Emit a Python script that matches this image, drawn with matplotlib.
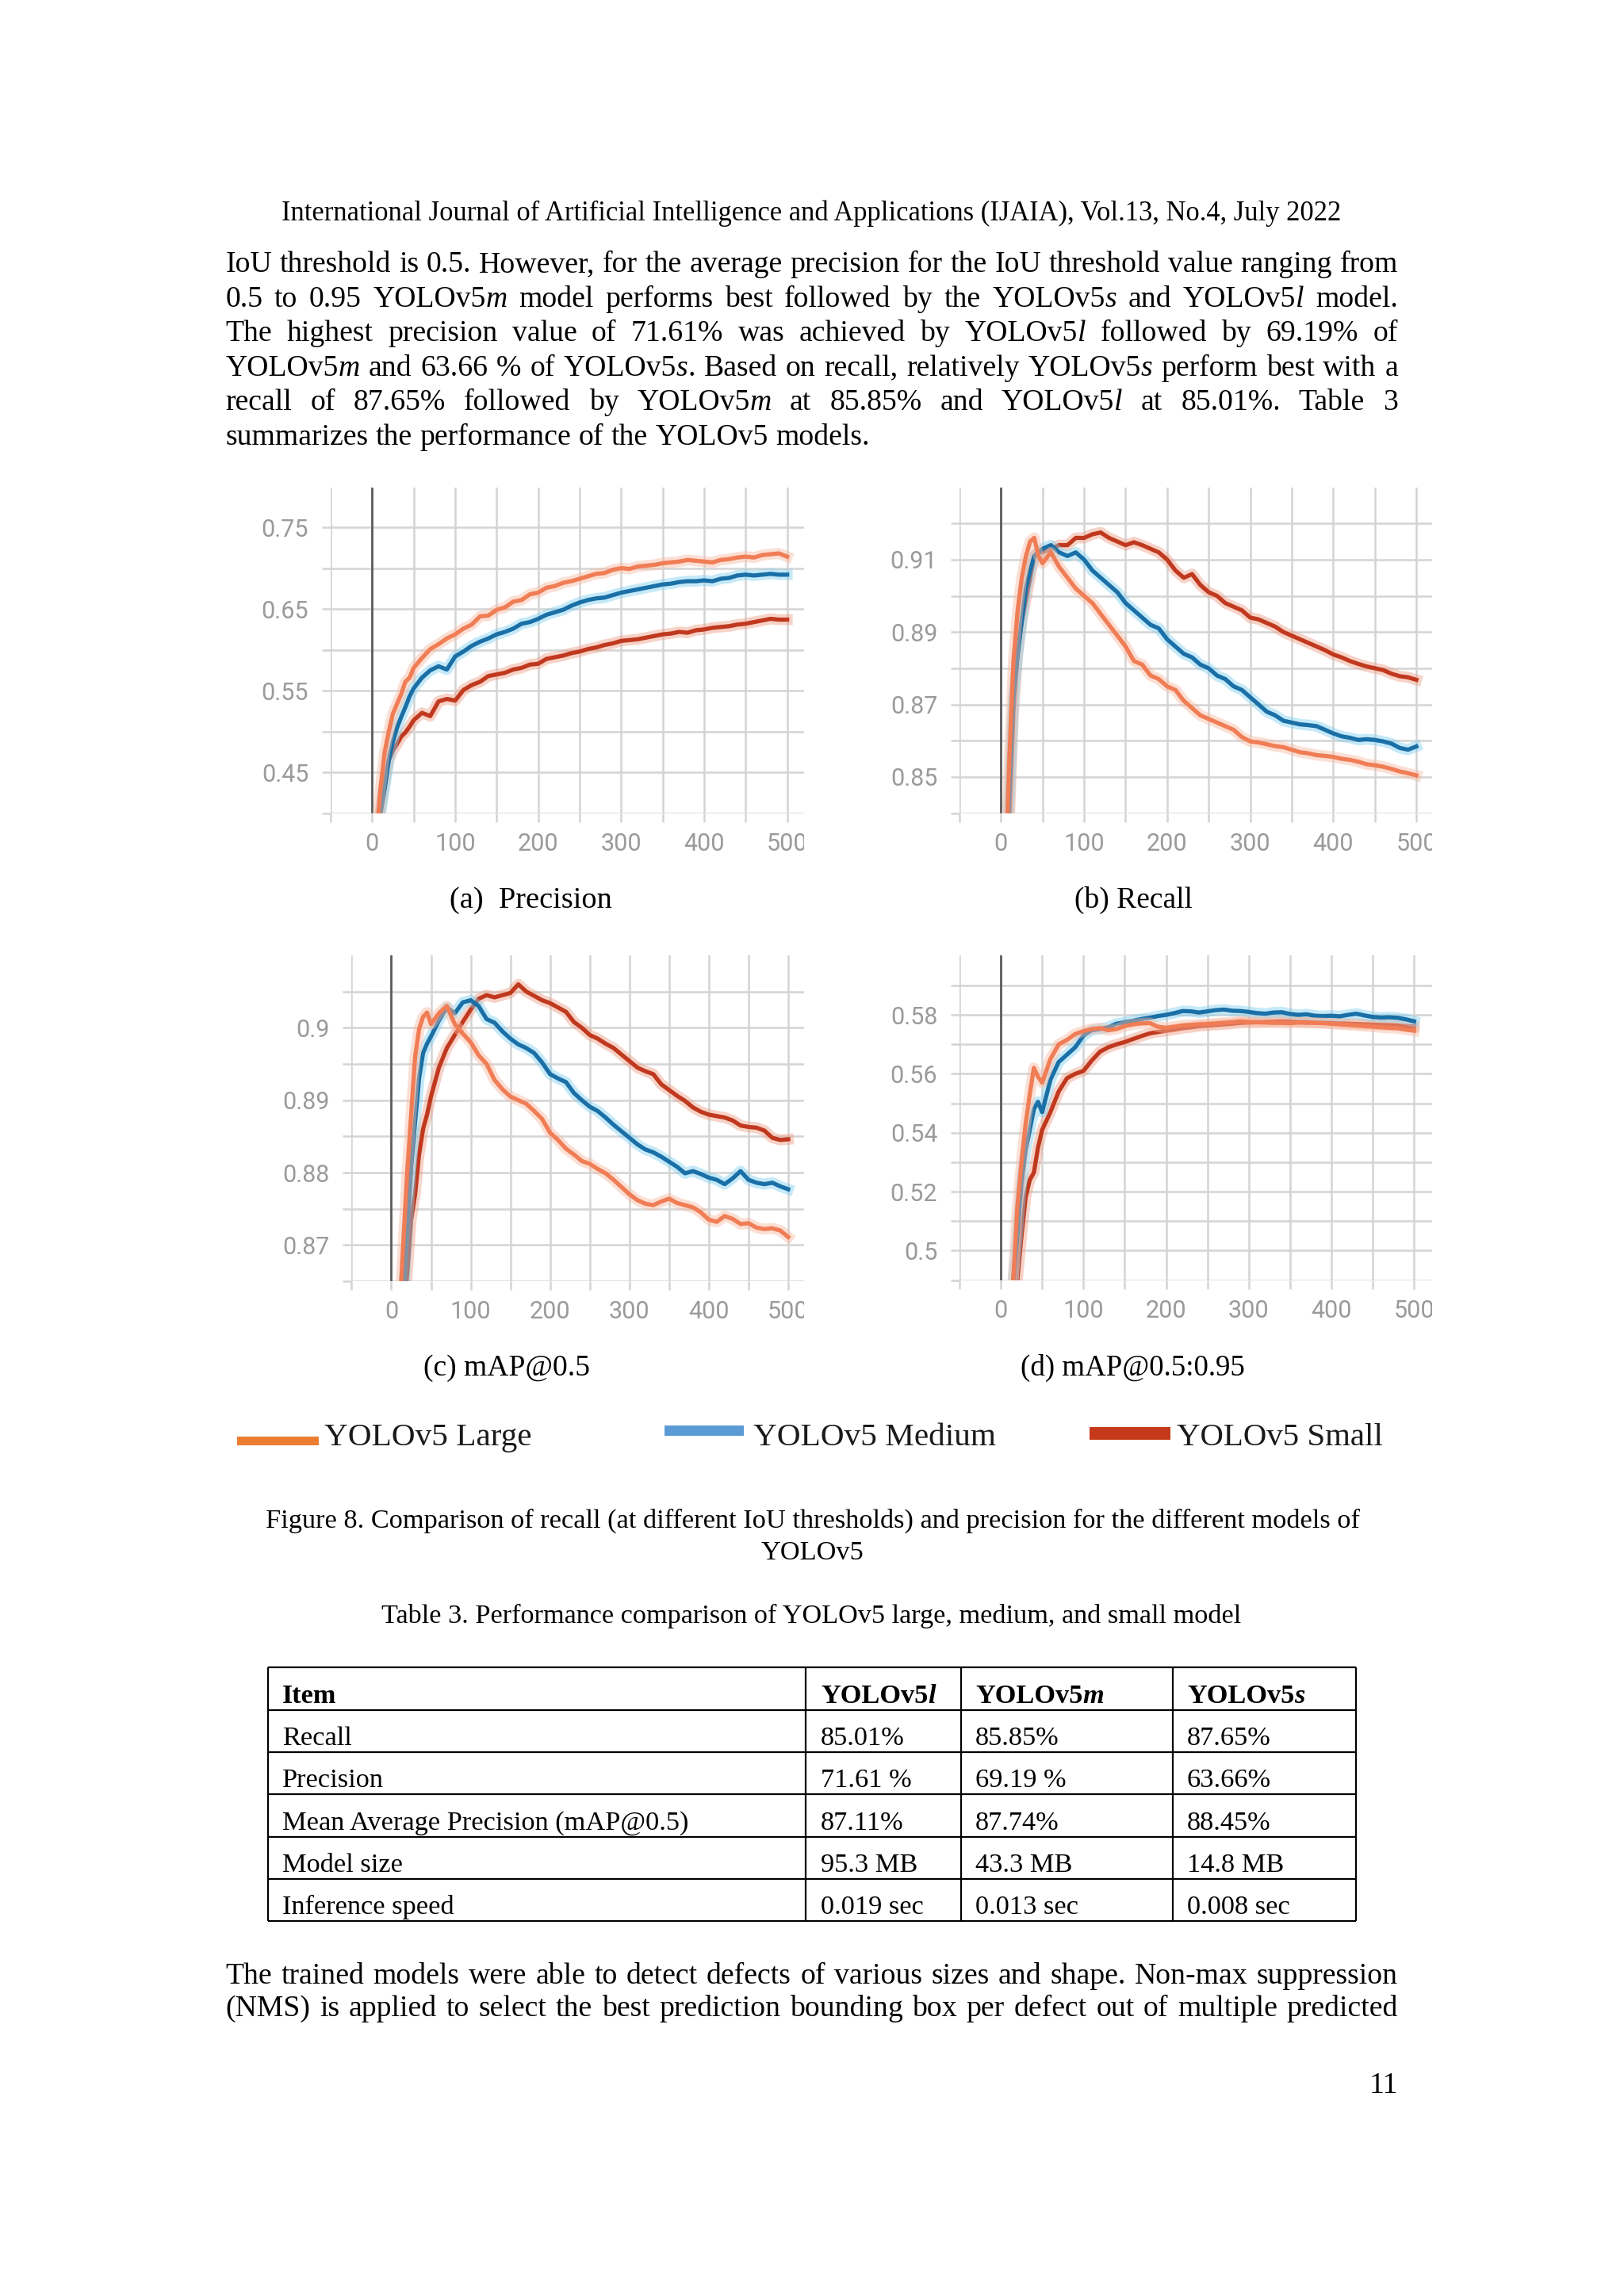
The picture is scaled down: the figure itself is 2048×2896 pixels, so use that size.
import matplotlib
matplotlib.use('Agg')
import matplotlib.pyplot as plt
from matplotlib.ticker import FixedLocator, FormatStrFormatter
from matplotlib.transforms import Bbox, TransformedBbox

W, H = 2048, 2896
SERIF = 'Liberation Serif'

epochs = [5, 10, 15, 20, 25, 30, 35, 40, 45, 50] + list(range(60, 501, 10))

models = ['YOLOv5 Large', 'YOLOv5 Medium', 'YOLOv5 Small']

# (a) precision
prec_large = [0.37, 0.43, 0.475, 0.50, 0.522, 0.534, 0.546, 0.561, 0.566, 0.578,
              0.590, 0.601, 0.607, 0.614, 0.619, 0.626, 0.631, 0.641, 0.642, 0.649,
              0.652, 0.659, 0.661, 0.668, 0.670, 0.676, 0.678, 0.682, 0.684, 0.687,
              0.690, 0.693, 0.694, 0.698, 0.700, 0.699, 0.702, 0.703, 0.704, 0.706,
              0.707, 0.708, 0.710, 0.709, 0.708, 0.707, 0.710, 0.711, 0.713, 0.714,
              0.713, 0.716, 0.717, 0.718, 0.714]
prec_medium = [0.37, 0.40, 0.43, 0.465, 0.488, 0.505, 0.518, 0.530, 0.543, 0.553,
               0.566, 0.575, 0.580, 0.576, 0.592, 0.598, 0.605, 0.610, 0.614, 0.619,
               0.622, 0.626, 0.632, 0.634, 0.638, 0.643, 0.646, 0.649, 0.654, 0.658,
               0.661, 0.663, 0.664, 0.667, 0.670, 0.672, 0.674, 0.676, 0.678, 0.680,
               0.681, 0.683, 0.684, 0.684, 0.685, 0.684, 0.687, 0.688, 0.691, 0.692,
               0.691, 0.692, 0.693, 0.692, 0.692]
prec_small = [0.36, 0.405, 0.438, 0.465, 0.477, 0.485, 0.494, 0.499, 0.506, 0.514,
              0.523, 0.519, 0.537, 0.540, 0.538, 0.551, 0.557, 0.561, 0.568, 0.570,
              0.572, 0.576, 0.578, 0.582, 0.583, 0.589, 0.591, 0.593, 0.596, 0.598,
              0.601, 0.603, 0.606, 0.608, 0.611, 0.612, 0.613, 0.615, 0.617, 0.619,
              0.620, 0.622, 0.621, 0.624, 0.625, 0.627, 0.628, 0.629, 0.631, 0.632,
              0.634, 0.636, 0.638, 0.637, 0.637]

# (b) recall
rec_large = [0.82, 0.855, 0.882, 0.896, 0.905, 0.911, 0.915, 0.916, 0.911, 0.909,
             0.912, 0.908, 0.905, 0.902, 0.900, 0.898, 0.895, 0.892, 0.889, 0.886,
             0.882, 0.881, 0.878, 0.877, 0.875, 0.874, 0.871, 0.869, 0.867, 0.866,
             0.865, 0.864, 0.863, 0.861, 0.8598, 0.8595, 0.8590, 0.8585, 0.8582, 0.8575,
             0.8568, 0.8565, 0.8560, 0.8558, 0.8555, 0.8550, 0.8547, 0.8542, 0.8535, 0.8532,
             0.8528, 0.8522, 0.8515, 0.8510, 0.8504]
rec_medium = [0.82, 0.845, 0.872, 0.884, 0.893, 0.902, 0.907, 0.911, 0.912, 0.913,
              0.914, 0.912, 0.911, 0.912, 0.910, 0.907, 0.905, 0.903, 0.901, 0.898,
              0.896, 0.894, 0.892, 0.891, 0.888, 0.886, 0.884, 0.883, 0.881, 0.880,
              0.878, 0.877, 0.875, 0.874, 0.872, 0.870, 0.868, 0.867, 0.8655, 0.8650,
              0.8645, 0.8643, 0.8640, 0.8630, 0.8620, 0.8612, 0.8608, 0.8602, 0.8604, 0.8602,
              0.8598, 0.8592, 0.8580, 0.8575, 0.8584]
rec_small = [0.82, 0.838, 0.868, 0.884, 0.893, 0.899, 0.905, 0.911, 0.912, 0.912,
             0.913, 0.914, 0.914, 0.916, 0.916, 0.917, 0.9175, 0.916, 0.915, 0.914,
             0.9148, 0.914, 0.913, 0.912, 0.910, 0.907, 0.905, 0.906, 0.903, 0.901,
             0.900, 0.898, 0.897, 0.896, 0.894, 0.8935, 0.8925, 0.8915, 0.890, 0.889,
             0.888, 0.887, 0.886, 0.885, 0.8838, 0.8830, 0.8820, 0.8812, 0.8805, 0.8800,
             0.8795, 0.8785, 0.8778, 0.8775, 0.8768]

# (c) mAP@0.5
map50_large = [0.85, 0.86, 0.870, 0.880, 0.888, 0.896, 0.8998, 0.9015, 0.9021, 0.9005,
               0.9020, 0.9030, 0.9005, 0.8992, 0.8980, 0.8962, 0.8950, 0.8928, 0.8915, 0.8905,
               0.8900, 0.8895, 0.8885, 0.8874, 0.8855, 0.8845, 0.8833, 0.8825, 0.8816, 0.8812,
               0.8805, 0.8799, 0.8790, 0.8780, 0.8770, 0.8762, 0.8757, 0.8755, 0.8760, 0.8764,
               0.8758, 0.8755, 0.8752, 0.8745, 0.8735, 0.8732, 0.8740, 0.8736, 0.8729, 0.8730,
               0.8724, 0.8722, 0.8723, 0.8720, 0.8711]
map50_medium = [0.85, 0.855, 0.862, 0.872, 0.881, 0.887, 0.893, 0.8965, 0.8978, 0.8988,
                0.9010, 0.9028, 0.9020, 0.9035, 0.9038, 0.9030, 0.9012, 0.9007, 0.8995, 0.8985,
                0.8977, 0.8972, 0.8965, 0.8952, 0.8936, 0.8930, 0.8925, 0.8910, 0.8900, 0.8891,
                0.8885, 0.8876, 0.8866, 0.8857, 0.8848, 0.8839, 0.8832, 0.8828, 0.8822, 0.8815,
                0.8808, 0.8799, 0.8802, 0.8798, 0.8793, 0.8790, 0.8784, 0.8792, 0.8802, 0.8790,
                0.8786, 0.8784, 0.8786, 0.8781, 0.8777]
map50_small = [0.85, 0.855, 0.860, 0.866, 0.8735, 0.877, 0.8825, 0.8860, 0.8880, 0.8905,
               0.8945, 0.8972, 0.8990, 0.9008, 0.9025, 0.9040, 0.9045, 0.9042, 0.9045, 0.9048,
               0.9060, 0.9050, 0.9044, 0.9038, 0.9034, 0.9028, 0.9022, 0.9008, 0.9000, 0.8990,
               0.8985, 0.8978, 0.8972, 0.8963, 0.8954, 0.8945, 0.8940, 0.8936, 0.8922, 0.8914,
               0.8906, 0.8899, 0.8890, 0.8884, 0.8880, 0.8878, 0.8876, 0.8872, 0.8865, 0.8863,
               0.8862, 0.8858, 0.8848, 0.8845, 0.8846]

# (d) mAP@0.5:0.95
map95_large = [0.47, 0.48, 0.49, 0.515, 0.530, 0.543, 0.553, 0.562, 0.559, 0.557,
               0.565, 0.570, 0.5715, 0.5735, 0.5745, 0.5752, 0.5755, 0.5748, 0.5752, 0.5762,
               0.5768, 0.5771, 0.5772, 0.5760, 0.5756, 0.5760, 0.5764, 0.5766, 0.5768, 0.5769,
               0.5771, 0.5773, 0.5775, 0.5778, 0.5776, 0.5775, 0.5774, 0.5773, 0.5773, 0.5772,
               0.5774, 0.5773, 0.5773, 0.5772, 0.5770, 0.5768, 0.5766, 0.5764, 0.5762, 0.5760,
               0.5758, 0.5756, 0.5755, 0.5750, 0.5746]
map95_medium = [0.47, 0.48, 0.49, 0.505, 0.523, 0.534, 0.541, 0.548, 0.5505, 0.5470,
                0.5580, 0.5640, 0.5665, 0.5690, 0.5730, 0.5748, 0.5752, 0.5758, 0.5770, 0.5775,
                0.5780, 0.5786, 0.5790, 0.5796, 0.5800, 0.5806, 0.5813, 0.5812, 0.5808, 0.5812,
                0.5816, 0.5818, 0.5814, 0.5813, 0.5810, 0.5806, 0.5804, 0.5808, 0.5809, 0.5803,
                0.5800, 0.5802, 0.5797, 0.5796, 0.5797, 0.5795, 0.5800, 0.5804, 0.5798, 0.5793,
                0.5791, 0.5792, 0.5790, 0.5785, 0.5778]
map95_small = [0.46, 0.47, 0.48, 0.49, 0.505, 0.518, 0.524, 0.5265, 0.535, 0.541,
               0.547, 0.554, 0.5585, 0.5600, 0.5610, 0.5645, 0.5675, 0.5690, 0.5700, 0.5708,
               0.5718, 0.5728, 0.5737, 0.5742, 0.5746, 0.5750, 0.5755, 0.5758, 0.5762, 0.5764,
               0.5766, 0.5768, 0.5770, 0.5773, 0.5774, 0.5775, 0.5776, 0.5777, 0.5778, 0.5777,
               0.5776, 0.5775, 0.5774, 0.5773, 0.5772, 0.5771, 0.5770, 0.5769, 0.5768, 0.5767,
               0.5766, 0.5765, 0.5764, 0.5762, 0.5760]

table_cols = ['Item', 'YOLOv5*l*', 'YOLOv5*m*', 'YOLOv5*s*']
table_rows = [
    ['Recall', '85.01%', '85.85%', '87.65%'],
    ['Precision', '71.61 %', '69.19 %', '63.66%'],
    ['Mean Average Precision (mAP@0.5)', '87.11%', '87.74%', '88.45%'],
    ['Model size', '95.3 MB', '43.3 MB', '14.8 MB'],
    ['Inference speed', '0.019 sec', '0.013 sec', '0.008 sec'],
]

para1 = [
    "IoU threshold is 0.5. However, for the average precision for the IoU threshold value ranging from",
    "0.5 to 0.95 YOLOv5*m* model performs best followed by the YOLOv5*s* and YOLOv5*l* model.",
    "The highest precision value of 71.61% was achieved by YOLOv5*l* followed by 69.19% of",
    "YOLOv5*m* and 63.66 % of YOLOv5*s*. Based on recall, relatively YOLOv5*s* perform best with a",
    "recall of 87.65% followed by YOLOv5*m* at 85.85% and YOLOv5*l* at 85.01%. Table 3",
    "summarizes the performance of the YOLOv5 models.",
]
para2 = [
    "The trained models were able to detect defects of various sizes and shape. Non-max suppression",
    "(NMS) is applied to select the best prediction bounding box per defect out of multiple predicted",
]

line_colors = ['#f07d55', '#1a6fa6', '#c0391e']
halo_colors = ['#f9b9a0', '#7fd0f0', '#ee9c84']
legend_colors = ['#ed7d31', '#5b9bd5', '#c5391a']
GRID = '#d4d4d4'

fig = plt.figure(figsize=(10.24, 14.48), dpi=200)
r = fig.canvas.get_renderer()

# full page overlay in pixel units
page = fig.add_axes([0, 0, 1, 1])
page.set_xlim(0, W)
page.set_ylim(H, 0)
page.axis('off')


def seg_text(x, y, s, size, italic=False, weight='normal', **kw):
    return page.text(x, y, s, fontsize=size, family=SERIF, va='baseline', ha='left',
                     fontstyle='italic' if italic else 'normal', fontweight=weight, **kw)


def word_w(word, size, weight='normal'):
    w = 0
    for i, p in enumerate(word.split('*')):
        if p:
            t = seg_text(0, 0, p, size, i % 2 == 1, weight)
            w += t.get_window_extent(r).width
            t.remove()
    return w


def draw_word(x, y, word, size, weight='normal'):
    for i, p in enumerate(word.split('*')):
        if p:
            t = seg_text(x, y, p, size, i % 2 == 1, weight)
            x += t.get_window_extent(r).width
    return x


def space_w(size):
    return word_w('x x', size) - word_w('xx', size)


def put_line(y, line, size, x0=284.5, x1=1763, justify=True, weight='normal'):
    words = line.split(' ')
    ws = [word_w(w, size, weight) for w in words]
    gap = (x1 - x0 - sum(ws)) / (len(words) - 1) if justify else space_w(size)
    x = x0
    for w, wd in zip(words, ws):
        draw_word(x, y, w, size, weight)
        x += wd + gap


def fit(s, target, base=14):
    return base * target / word_w(s, base)


def centered(xc, y, s, size):
    page.text(xc, y, s, fontsize=size, family=SERIF, ha='center', va='baseline')


BODY = 13.6

# header + first paragraph
header = 'International Journal of Artificial Intelligence and Applications (IJAIA), Vol.13, No.4, July 2022'
centered(1023.5, 278, header, fit(header, 1333))
for i, line in enumerate(para1):
    put_line(343 + i * 43.6, line, BODY, justify=(i < len(para1) - 1))

# charts
panels = [
    ('(a)  Precision', [prec_large, prec_medium, prec_small], (417, 615, 1014, 1026), (-50, 520.4), (0.40, 0.7985),
     [0.45, 0.55, 0.65, 0.75], [0.40, 0.50, 0.60, 0.70], (669.5, 1145), 205),
    ('(b) Recall', [rec_large, rec_medium, rec_small], (1210, 615, 1806, 1026), (-50, 519), (0.8399, 0.9299),
     [0.85, 0.87, 0.89, 0.91], [0.84, 0.86, 0.88, 0.90, 0.92], (1429.5, 1145), 149),
    ('(c) mAP@0.5', [map50_large, map50_medium, map50_small], (443.4, 1205, 1014.4, 1616), (-50, 520.4), (0.865, 0.910),
     [0.87, 0.88, 0.89, 0.90], [0.865, 0.875, 0.885, 0.895, 0.905], (639, 1735), 210),
    ('(d) mAP@0.5:0.95', [map95_large, map95_medium, map95_small], (1210, 1205, 1806, 1615), (-50, 521.8), (0.4899, 0.6002),
     [0.50, 0.52, 0.54, 0.56, 0.58], [0.49, 0.51, 0.53, 0.55, 0.57, 0.59], (1428.5, 1735), 283),
]

for title, series, (l, t, rr, b), xlim, ylim, ymaj, ymin, cap, capw in panels:
    ax = fig.add_axes([l / W, 1 - b / H, (rr - l) / W, (b - t) / H])
    for s in ax.spines.values():
        s.set_visible(False)
    ax.set_xlim(*xlim)
    ax.set_ylim(*ylim)
    ax.xaxis.set_major_locator(FixedLocator([0, 100, 200, 300, 400, 500]))
    ax.xaxis.set_minor_locator(FixedLocator([-50, 50, 150, 250, 350, 450]))
    ax.yaxis.set_major_locator(FixedLocator(ymaj))
    ax.yaxis.set_minor_locator(FixedLocator(ymin))
    ax.yaxis.set_major_formatter(FormatStrFormatter('%g'))
    ax.grid(which='both', color=GRID, lw=0.9)
    ax.set_axisbelow(True)
    ax.tick_params(which='both', direction='out', length=4, width=0.9, color=GRID,
                   labelcolor='#9a9a9a', labelsize=11)
    ax.tick_params(axis='x', pad=4.5)
    ax.tick_params(axis='y', pad=6)
    for lab in ax.get_xticklabels() + ax.get_yticklabels():
        lab.set_family(['Roboto', 'DejaVu Sans'])
    clip = TransformedBbox(Bbox([[-1, -1], [1, 2]]), ax.transAxes)
    for lab in ax.get_xticklabels():
        lab.set_clip_box(clip)
        lab.set_clip_on(True)
    ax.axvline(0, color='#5c5c5c', lw=1.0, zorder=1.5)
    for k in [2, 1, 0]:
        ax.plot(epochs, series[k], color=halo_colors[k], lw=5, alpha=0.45, solid_joinstyle='round')
        ax.plot(epochs, series[k], color=line_colors[k], lw=1.9, solid_joinstyle='round')
    centered(cap[0], cap[1], title, fit(title, capw))

# legend row
legend_bars = [(299, 402, 1812, 1823), (838, 938, 1798, 1811), (1374, 1476, 1800, 1816)]
legend_text = [(409, 261), (950, 306), (1484, 260)]
for name, c, (x0, x1, y0, y1), (tx, tw) in zip(models, legend_colors, legend_bars, legend_text):
    page.fill_between([x0, x1], y0, y1, color=c, lw=0)
    seg_text(tx, 1823, name, fit(name, tw), color='#1a1a1a')

# captions
cap1 = 'Figure 8. Comparison of recall (at different IoU thresholds) and precision for the different models of'
csz = fit(cap1, 1380)
centered(1025, 1927, cap1, csz)
centered(1025, 1967, 'YOLOv5', csz)
cap2 = 'Table 3. Performance comparison of YOLOv5 large, medium, and small model'
centered(1023.5, 2047, cap2, fit(cap2, 1087))

# table
row_y = [2103, 2157, 2210, 2263, 2317, 2370, 2423]
col_x = [338, 1016, 1212, 1479, 1710]
for y in row_y:
    page.plot([col_x[0], col_x[-1]], [y, y], color='black', lw=0.8, solid_capstyle='butt')
for x in col_x:
    page.plot([x, x], [row_y[0], row_y[-1]], color='black', lw=0.8, solid_capstyle='butt')
TAB = 12.4
text_x = [356, 1035, 1230, 1497]
for j, h in enumerate(table_cols):
    draw_word(text_x[j], row_y[1] - 9, h, TAB, weight='bold')
for i, row in enumerate(table_rows):
    for j, cell in enumerate(row):
        seg_text(text_x[j], row_y[i + 2] - 9, cell, TAB)

# second paragraph + page number
for i, line in enumerate(para2):
    put_line(2502 + i * 41, line, BODY, justify=True)
page.text(1763, 2640, '11', fontsize=BODY, family=SERIF, ha='right', va='baseline')

fig.savefig('out.png', dpi=200, facecolor='white')
